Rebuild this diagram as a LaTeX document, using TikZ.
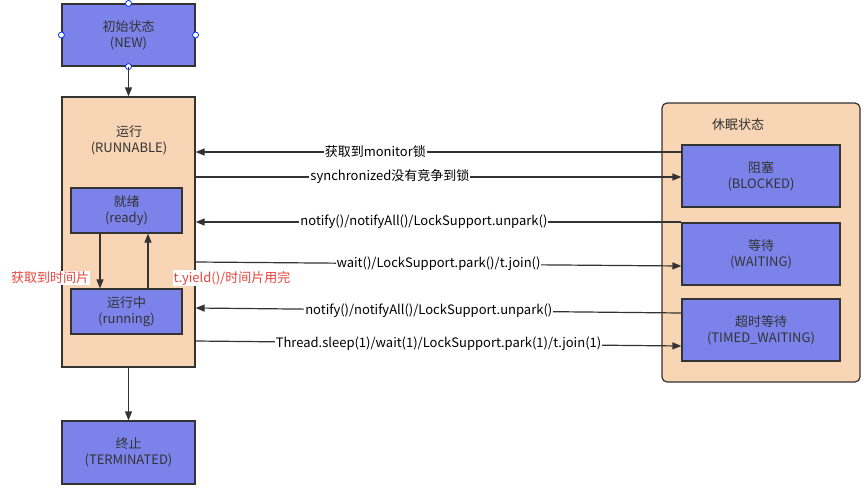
\documentclass[tikz,border=0pt]{standalone}
\usepackage{fontspec}
\setmainfont{Noto Sans CJK SC}
\usetikzlibrary{arrows.meta}
\definecolor{bl}{HTML}{7B83EB}
\definecolor{pc}{HTML}{F8D5B4}
\definecolor{tx}{HTML}{333333}
\definecolor{rd}{HTML}{E8453C}
\begin{document}
\begin{tikzpicture}[x=1pt,y=-1pt,
 font=\fontsize{13}{16}\selectfont,
 st/.style={draw=tx,line width=1.2pt,fill=bl,text=tx,align=center,inner sep=0},
 arr/.style={draw=tx,line width=1.2pt,-{Triangle[length=9pt,width=7pt]}},
 lb/.style={fill=white,inner sep=1pt,text=black},
 rl/.style={fill=white,inner sep=1pt,text=rd},
 hd/.style={circle,draw=blue!80!cyan,fill=white,line width=0.8pt,inner sep=0,minimum size=6pt}]
\useasboundingbox (0,0) rectangle (867,488);
\fill[white] (0,0) rectangle (867,488);
% boxes
\node[st,minimum width=133pt,minimum height=62pt] (new) at (128.5,35) {初始状态\\(NEW)};
\node[draw=tx,line width=1.2pt,fill=pc,minimum width=133pt,minimum height=270pt,inner sep=0] (run) at (128.5,232) {};
\node[text=tx,align=center] (runt) at (129,140) {运行\\(RUNNABLE)};
\node[st,minimum width=111pt,minimum height=45pt] (ready) at (126.5,210.5) {就绪\\(ready)};
\node[st,minimum width=111pt,minimum height=45pt] (running) at (126.5,311.5) {运行中\\(running)};
\node[st,minimum width=133pt,minimum height=63pt] (term) at (128.5,452.5) {终止\\(TERMINATED)};
\node[draw=tx,line width=1.2pt,fill=pc,rounded corners=5pt,minimum width=198pt,minimum height=279pt,inner sep=0] (sleep) at (761,242.5) {};
\node[text=tx] (sleept) at (738,125) {休眠状态};
\node[st,minimum width=158pt,minimum height=62pt] (blk) at (761,176) {阻塞\\(BLOCKED)};
\node[st,minimum width=158pt,minimum height=62pt] (wt) at (761,254) {等待\\(WAITING)};
\node[st,minimum width=158pt,minimum height=62pt] (tw) at (761,330) {超时等待\\(TIMED\_WAITING)};
% handles
\node[hd] (h1) at (new.north) {};
\node[hd] (h2) at (new.south) {};
\node[hd] (h3) at (new.west) {};
\node[hd] (h4) at (new.east) {};
% vertical arrows
\draw[arr] (new.south) -- (run.north);
\draw[arr] (run.south) -- (term.north);
\draw[arr] (ready.south -| 100,0) -- (running.north -| 100,0);
\draw[arr] (running.north -| 148,0) -- (ready.south -| 148,0);
\node[rl] (l1) at (50,278) {获取到时间片};
\node[rl] (l2) at (232,278) {t.yield()/时间片用完};
% horizontal
\draw[arr] (blk.west |- 0,152) -- (run.east |- 0,152) node[lb,pos=0.63] {获取到monitor锁};
\draw[arr] (run.east |- 0,177) -- (blk.west |- 0,177) node[lb,pos=0.4] {synchronized没有竞争到锁};
\draw[arr] (wt.west |- 0,222) -- (run.east |- 0,222) node[lb,pos=0.53] {notify()/notifyAll()/LockSupport.unpark()};
\draw[arr] (run.east |- 0,262) -- (wt.west |- 0,266) node[lb,pos=0.5] {wait()/LockSupport.park()/t.join()};
\draw[arr] (tw.west |- 0,313) -- (run.east |- 0,308) node[lb,pos=0.52] {notify()/notifyAll()/LockSupport.unpark()};
\draw[arr] (run.east |- 0,341) -- (tw.west |- 0,346) node[lb,pos=0.5] {Thread.sleep(1)/wait(1)/LockSupport.park(1)/t.join(1)};
\end{tikzpicture}
\end{document}
